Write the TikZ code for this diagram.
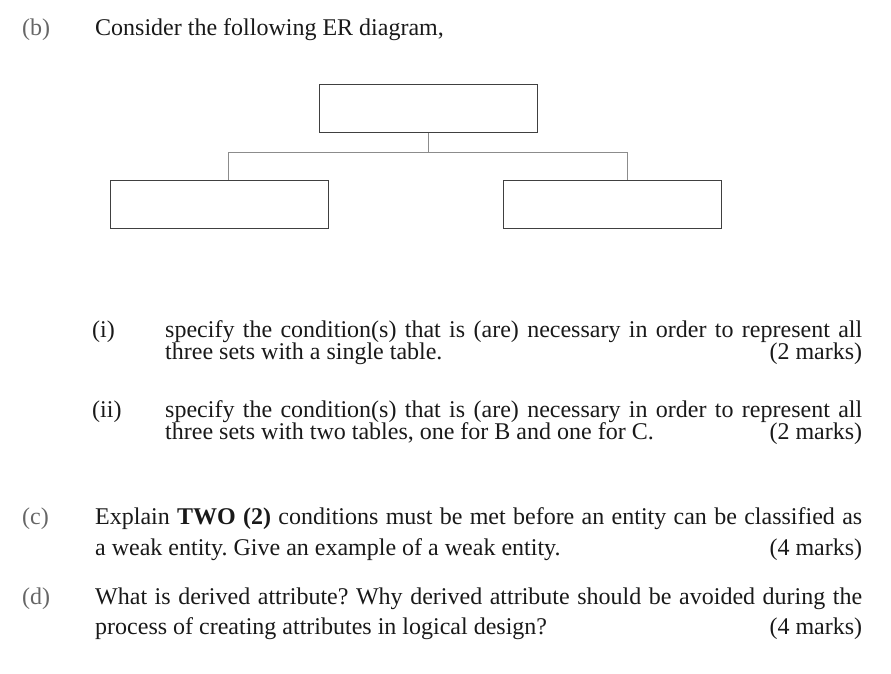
\documentclass[tikz,border=0pt]{standalone}
\usepackage{fontspec}
\setmainfont{Liberation Serif}
\frenchspacing
\begin{document}
\begin{tikzpicture}[x=1pt,y=-1pt,
  ent/.style={draw=black!75,line width=0.9pt,minimum width=218pt,minimum height=48pt,inner sep=0pt},
  conn/.style={draw=black!45,line width=0.8pt},
  txt/.style={anchor=base west,inner sep=0pt,font=\fontsize{24}{26}\selectfont,text=black!90}]
\useasboundingbox (0,0) rectangle (891,673);
\node[ent] (A) at (428.5,108.5) {};
\node[ent] (B) at (219.5,204) {};
\node[ent] (C) at (612,204) {};
\coordinate (J) at (427,152);
\draw[conn] (A.south) -- (A.south|-J) -| (B.north-|228,0);
\draw[conn] (A.south|-J) -| (627,180);
\node[txt,text=black!60] (lb) at (22,35) {(b)};
\node[txt] (tb) at (95,35) {Consider the following ER diagram,};
\node[txt] (li) at (92,337) {(i)};
\node[txt] (ti1) at (165,337) {\makebox[697pt][s]{specify the condition(s) that is (are) necessary in order to represent all}};
\node[txt] (ti2) at (165,359) {\makebox[697pt][l]{three sets with a single table.\hfill(2 marks)}};
\node[txt] (lii) at (92,417) {(ii)};
\node[txt] (tii1) at (165,417) {\makebox[697pt][s]{specify the condition(s) that is (are) necessary in order to represent all}};
\node[txt] (tii2) at (165,439) {\makebox[697pt][l]{three sets with two tables, one for B and one for C.\hfill(2 marks)}};
\node[txt,text=black!60] (lc) at (22,524) {(c)};
\node[txt] (tc1) at (95,524) {\makebox[767pt][s]{Explain \textbf{TWO (2)} conditions must be met before an entity can be classified as}};
\node[txt] (tc2) at (95,555) {\makebox[767pt][l]{a weak entity. Give an example of a weak entity.\hfill(4 marks)}};
\node[txt,text=black!60] (ld) at (22,604) {(d)};
\node[txt] (td1) at (95,604) {\makebox[767pt][s]{What is derived attribute? Why derived attribute should be avoided during the}};
\node[txt] (td2) at (95,634) {\makebox[767pt][l]{process of creating attributes in logical design?\hfill(4 marks)}};
\end{tikzpicture}
\end{document}
